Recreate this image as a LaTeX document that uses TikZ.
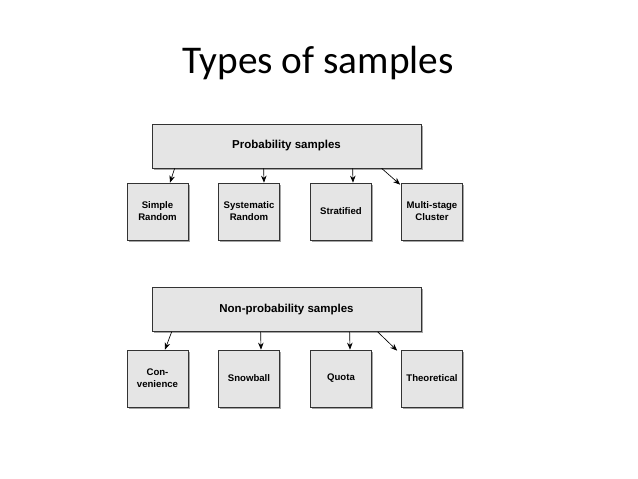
\documentclass[tikz,border=0pt]{standalone}
\usepackage{fontspec}
\setmainfont{Liberation Sans}
\newfontfamily\titlefont{Carlito}
\usetikzlibrary{arrows.meta,shadows}
\begin{document}
\begin{tikzpicture}[x=1pt,y=-1pt,
  boxstyle/.style={draw=black!80,line width=0.7pt,fill=black!10,
    drop shadow={shadow xshift=1.8pt,shadow yshift=-1.8pt,opacity=0.5,fill=black!70},
    font=\bfseries\fontsize{9.6}{12}\selectfont,align=center,inner sep=0pt},
  headbox/.style={boxstyle,minimum width=269pt,minimum height=44pt,font=\bfseries\fontsize{11.5}{13}\selectfont},
  leafbox/.style={boxstyle,minimum width=61pt,minimum height=57pt},
  conn/.style={line width=0.65pt,-{Stealth[length=7pt,width=5.5pt]}}]
\useasboundingbox (0,0) rectangle (638,479);
\node[font=\titlefont\fontsize{39.3}{42}\selectfont,anchor=base] (title) at (318,73) {Types of samples};

\node[headbox] (p) at (286.5,146) {Probability samples};
\node[leafbox] (p1) at (157.5,211.5) {Simple\\Random};
\node[leafbox] (p2) at (249,211.5) {Systematic\\Random};
\node[leafbox] (p3) at (341,211.5) {Stratified};
\node[leafbox] (p4) at (432,211.5) {Multi-stage\\Cluster};
\draw[conn] ([xshift=23pt]p.south west) -- ([xshift=12.5pt]p1.north);
\draw[conn] ([xshift=112pt]p.south west) -- ([xshift=15pt]p2.north);
\draw[conn] ([xshift=201pt]p.south west) -- ([xshift=12pt]p3.north);
\draw[conn] ([xshift=230pt]p.south west) -- ([xshift=-1pt,yshift=-2pt]p4.north west);

\node[headbox] (n) at (286.5,309.5) {Non-probability samples};
\node[leafbox] (n1) at (157.5,378.5) {Con-\\venience};
\node[leafbox] (n2) at (249,378.5) {Snowball};
\node[leafbox] (n3) at (341,378.5) {Quota};
\node[leafbox] (n4) at (432,378.5) {Theoretical};
\draw[conn] ([xshift=20pt]n.south west) -- ([xshift=7.5pt]n1.north);
\draw[conn] ([xshift=109pt]n.south west) -- ([xshift=12pt]n2.north);
\draw[conn] ([xshift=198pt]n.south west) -- ([xshift=9pt]n3.north);
\draw[conn] ([xshift=226pt]n.south west) -- ([xshift=-4pt,yshift=-1pt]n4.north west);
\end{tikzpicture}
\end{document}
